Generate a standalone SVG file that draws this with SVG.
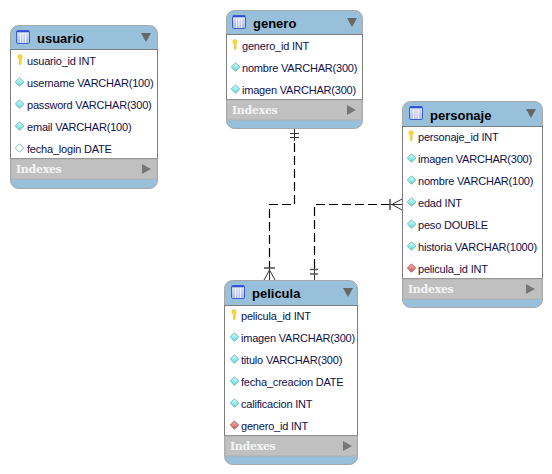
<svg xmlns="http://www.w3.org/2000/svg" width="552" height="474" viewBox="0 0 552 474">
<style>
.shell{fill:#98c0da;stroke:#a8a8a8;stroke-width:1}
.body{fill:#fff;stroke:#7d7d7d;stroke-width:1}
.idx{fill:#c0c0c0;stroke:#b0b0b0;stroke-width:1}
.title{font:bold 13px "Liberation Sans",Arial,sans-serif;fill:#000}
.col{font:11px "Liberation Sans",Arial,sans-serif;fill:#10104a;letter-spacing:-.2px}
.ix{font:bold 11px "DejaVu Serif",serif;fill:#f4f4f4;letter-spacing:-.3px}
.tri{fill:#666}
.tri2{fill:#777}
.conn{fill:none;stroke:#000;stroke-width:1.2;stroke-dasharray:9 4}
.mk{fill:none;stroke:#333;stroke-width:1}
.mkb{fill:none;stroke:#555;stroke-width:1.6}
.d{stroke-width:.8}
.pk{fill:#ffd92e;stroke:#c9a400;stroke-width:.4}
</style>
<defs>
<linearGradient id="ic" x1="0" y1="0" x2="0" y2="1"><stop offset="0" stop-color="#dfe6f8"/><stop offset="1" stop-color="#a9b9e8"/></linearGradient>
<linearGradient id="cy" x1="0" y1="0" x2="0" y2="1"><stop offset="0" stop-color="#d6ffff"/><stop offset="1" stop-color="#5fdcdc"/></linearGradient>
<linearGradient id="rd" x1="0" y1="0" x2="0" y2="1"><stop offset="0" stop-color="#f5b5b5"/><stop offset="1" stop-color="#d05a5a"/></linearGradient>
<g id="tbl"><rect x=".5" y=".5" width="13" height="13" rx="1" fill="url(#ic)" stroke="#3c5fd0" stroke-width="1"/><path d="M1 1.500h12" stroke="#2f50d0" stroke-width="1.500"/><path d="M4.500 3v10M7 3v10M9.500 3v10" stroke="#fff" stroke-width=".8"/></g>
<path id="key" class="pk" d="M-2.200-3a2.200 2.500 0 0 1 4.400 0c0 1.300-.7 1.800-1 2.400v4.400l-1.100 1.200-.7-1.200v-4.400c-.4-.6-1.600-1.100-1.600-2.400z"/>
<path id="dc" class="d" fill="url(#cy)" stroke="#4fa8a8" d="M0-4.200l4.200 4.200-4.200 4.200-4.200-4.200z"/>
<path id="dw" class="d" fill="#fff" stroke="#4fa8a8" d="M0-4.200l4.200 4.200-4.200 4.200-4.200-4.200z"/>
<path id="dr" class="d" fill="url(#rd)" stroke="#a85050" d="M0-4.200l4.200 4.200-4.200 4.200-4.200-4.200z"/>
</defs>

<g id="connectors">
<path class="conn" d="M294.500 143V204.500H269.500V268"/>
<path class="conn" d="M314.500 268V204.500H390"/>
<path class="mk" d="M294.500 129v12M290 133.500h9M290 137.500h9"/>
<path class="mk" d="M264 280l5.500-10 5.500 10M269.500 268v12"/>
<path class="mkb" d="M264 268h11"/>
<path class="mk" d="M314.500 268v12"/>
<path class="mkb" d="M310 269.500h8M310 274h8"/>
<path class="mk" d="M402 199l-10 5.500 10 5.500M390 204.500h12"/>
<path class="mkb" d="M390 199v11"/>
</g>

<g id="usuario">
<rect class="shell" x="10.500" y="25.500" width="147" height="163" rx="8"/>
<rect class="body" x="10.500" y="49.500" width="147" height="109"/>
<rect class="idx" x="11" y="159" width="146" height="20"/>
<use href="#tbl" x="16" y="30"/>
<text class="title" x="37" y="43">usuario</text>
<path class="tri" d="M141 33h10l-5 9z"/>
<use href="#key" x="20" y="60"/><text class="col" x="27" y="65">usuario_id INT</text>
<use href="#dc" x="19.500" y="82"/><text class="col" x="27" y="87">username VARCHAR(100)</text>
<use href="#dc" x="19.500" y="104"/><text class="col" x="27" y="109">password VARCHAR(300)</text>
<use href="#dc" x="19.500" y="126"/><text class="col" x="27" y="131">email VARCHAR(100)</text>
<use href="#dw" x="19.500" y="148"/><text class="col" x="27" y="153">fecha_login DATE</text>
<text class="ix" x="16" y="173">Indexes</text>
<path class="tri2" d="M142 164l9 5-9 5z"/>
</g>

<g id="genero">
<rect class="shell" x="226.500" y="10.500" width="136" height="118" rx="8"/>
<rect class="body" x="226.500" y="34.500" width="136" height="65"/>
<rect class="idx" x="227" y="100" width="135" height="20"/>
<use href="#tbl" x="232" y="15"/>
<text class="title" x="253" y="28">genero</text>
<path class="tri" d="M347 18h10l-5 9z"/>
<use href="#key" x="235" y="45"/><text class="col" x="242" y="50">genero_id INT</text>
<use href="#dc" x="235.500" y="67"/><text class="col" x="242" y="72">nombre VARCHAR(300)</text>
<use href="#dc" x="235.500" y="89"/><text class="col" x="242" y="94">imagen VARCHAR(300)</text>
<text class="ix" x="232" y="114">Indexes</text>
<path class="tri2" d="M347 105l9 5-9 5z"/>
</g>

<g id="personaje">
<rect class="shell" x="402.500" y="101.500" width="140" height="206" rx="8"/>
<rect class="body" x="402.500" y="126.500" width="140" height="152"/>
<rect class="idx" x="403" y="279" width="139" height="20"/>
<use href="#tbl" x="409" y="106"/>
<text class="title" x="430" y="120">personaje</text>
<path class="tri" d="M526 109h10l-5 9z"/>
<use href="#key" x="411" y="136"/><text class="col" x="418" y="141">personaje_id INT</text>
<use href="#dc" x="411.500" y="158"/><text class="col" x="418" y="163">imagen VARCHAR(300)</text>
<use href="#dc" x="411.500" y="180"/><text class="col" x="418" y="185">nombre VARCHAR(100)</text>
<use href="#dc" x="411.500" y="202"/><text class="col" x="418" y="207">edad INT</text>
<use href="#dc" x="411.500" y="224"/><text class="col" x="418" y="229">peso DOUBLE</text>
<use href="#dc" x="411.500" y="246"/><text class="col" x="418" y="251">historia VARCHAR(1000)</text>
<use href="#dr" x="411.500" y="268"/><text class="col" x="418" y="273">pelicula_id INT</text>
<text class="ix" x="408" y="293">Indexes</text>
<path class="tri2" d="M526 284l9 5-9 5z"/>
</g>

<g id="pelicula">
<rect class="shell" x="224.500" y="280.500" width="133" height="184" rx="8"/>
<rect class="body" x="224.500" y="305.500" width="133" height="130"/>
<rect class="idx" x="225" y="436" width="132" height="20"/>
<use href="#tbl" x="231" y="285"/>
<text class="title" x="252" y="298">pelicula</text>
<path class="tri" d="M343 288h10l-5 9z"/>
<use href="#key" x="234" y="315"/><text class="col" x="241" y="320">pelicula_id INT</text>
<use href="#dc" x="234.500" y="337"/><text class="col" x="241" y="342">imagen VARCHAR(300)</text>
<use href="#dc" x="234.500" y="359"/><text class="col" x="241" y="364">titulo VARCHAR(300)</text>
<use href="#dc" x="234.500" y="381"/><text class="col" x="241" y="386">fecha_creacion DATE</text>
<use href="#dc" x="234.500" y="403"/><text class="col" x="241" y="408">calificacion INT</text>
<use href="#dr" x="234.500" y="425"/><text class="col" x="241" y="430">genero_id INT</text>
<text class="ix" x="230" y="450">Indexes</text>
<path class="tri2" d="M343 441l9 5-9 5z"/>
</g>
</svg>
